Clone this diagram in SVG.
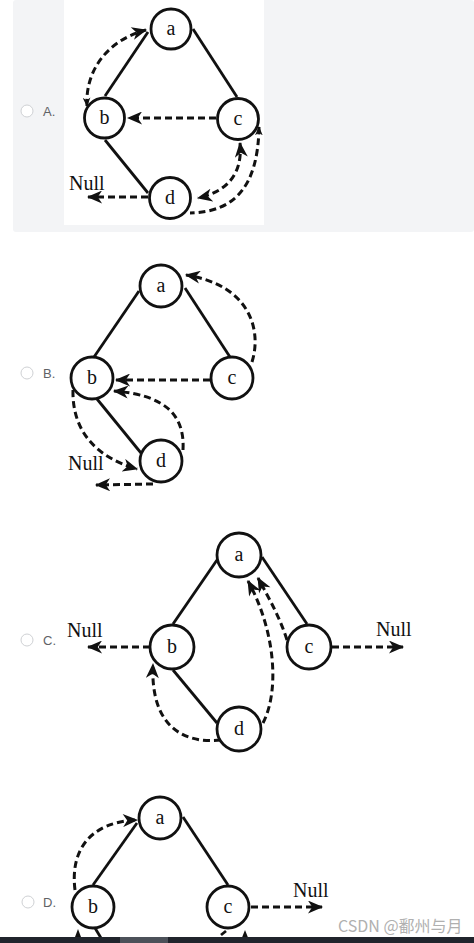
<svg xmlns="http://www.w3.org/2000/svg" width="474" height="943" viewBox="0 0 474 943">
<style>
.bg{fill:#ffffff}
.node circle{fill:#ffffff;stroke:#111;stroke-width:2.8}
.node text{font-family:"Liberation Serif",serif;font-size:20px;fill:#111;text-anchor:middle}
.edge{stroke:#111;stroke-width:2.8;fill:none}
.dash{stroke:#111;stroke-width:3;fill:none;stroke-dasharray:7 4}
.null{font-family:"Liberation Serif",serif;font-size:20px;fill:#111}
.radio{fill:#fff;stroke:#cfd1d4;stroke-width:1}
.opt{font-family:"Liberation Sans",Arial,sans-serif;font-size:13px;fill:#606266}
</style>
<defs>
<marker id="ah" viewBox="0 0 14 12" markerUnits="userSpaceOnUse" markerWidth="16" markerHeight="13" refX="13" refY="6" orient="auto-start-reverse">
<path d="M0,0 L14,6 L0,12 L4,6 Z" fill="#111"/>
</marker>
<marker id="ahs" viewBox="0 0 14 12" markerUnits="userSpaceOnUse" markerWidth="9" markerHeight="8" refX="13" refY="6" orient="auto-start-reverse">
<path d="M0,0 L14,6 L0,12 L4,6 Z" fill="#111"/>
</marker>
</defs>
<rect class="bg" x="0" y="0" width="474" height="943"/>

<!-- Option A -->
<rect x="13" y="0" width="461" height="232" rx="3" fill="#f3f4f6"/>
<rect x="64" y="0" width="200" height="225" fill="#ffffff"/>
<circle class="radio" cx="27" cy="111" r="6"/>
<text class="opt" x="43" y="116">A.</text>
<g id="A-edges">
<line class="edge" x1="148" y1="32" x2="105" y2="96"/>
<line class="edge" x1="193" y1="29" x2="237" y2="97"/>
<line class="edge" x1="105" y1="140" x2="148" y2="193"/>
<path class="dash" d="M216,118 L128,118" marker-end="url(#ah)"/>
<path class="dash" d="M148,197 L88,197" marker-end="url(#ah)"/>
<path class="dash" d="M87,106 C85,70 108,40 146,30" marker-end="url(#ah)" marker-start="url(#ahs)"/>
<path class="dash" d="M240,143 C243,175 226,192 198,198" marker-end="url(#ah)" marker-start="url(#ah)"/>
<path class="dash" d="M259,127 C258,185 236,212 190,213" marker-start="url(#ahs)"/>
</g>
<text class="null" x="69" y="190">Null</text>
<g id="A-a" class="node"><circle cx="171" cy="29" r="20"/><text x="171" y="35">a</text></g>
<g id="A-b" class="node"><circle cx="104.5" cy="118" r="20"/><text x="104.5" y="124">b</text></g>
<g id="A-c" class="node"><circle cx="238" cy="119" r="20.5"/><text x="238" y="125">c</text></g>
<g id="A-d" class="node"><circle cx="170" cy="198" r="20.5"/><text x="170" y="204">d</text></g>

<!-- Option B -->
<circle class="radio" cx="27" cy="373" r="6"/>
<text class="opt" x="43" y="378">B.</text>
<g id="B-edges">
<line class="edge" x1="139" y1="291" x2="94" y2="357"/>
<line class="edge" x1="185" y1="288" x2="230" y2="357"/>
<line class="edge" x1="97" y1="399" x2="141" y2="453"/>
<path class="dash" d="M210,380 L116,380" marker-end="url(#ah)"/>
<path class="dash" d="M252,362 C262,330 250,285 186,275" marker-end="url(#ah)"/>
<path class="dash" d="M183,450 C185,415 165,395 114,391" marker-end="url(#ah)"/>
<path class="dash" d="M73,390 C72,430 95,457 137,469" marker-end="url(#ah)"/>
<path class="dash" d="M153,484 L96,485" marker-end="url(#ah)"/>
</g>
<text class="null" x="68" y="470">Null</text>
<g id="B-a" class="node"><circle cx="161" cy="286" r="21"/><text x="161" y="292">a</text></g>
<g id="B-b" class="node"><circle cx="92" cy="378" r="21"/><text x="92" y="384">b</text></g>
<g id="B-c" class="node"><circle cx="232" cy="378" r="21"/><text x="232" y="384">c</text></g>
<g id="B-d" class="node"><circle cx="161" cy="461" r="21"/><text x="161" y="467">d</text></g>

<!-- Option C -->
<circle class="radio" cx="27" cy="640" r="6"/>
<text class="opt" x="43" y="645">C.</text>
<g id="C-edges">
<line class="edge" x1="217" y1="560" x2="173" y2="624"/>
<line class="edge" x1="262" y1="557" x2="307" y2="624"/>
<line class="edge" x1="173" y1="670" x2="217" y2="723"/>
<path class="dash" d="M150,647 L88,647" marker-end="url(#ah)"/>
<path class="dash" d="M332,647 L403,647" marker-end="url(#ah)"/>
<path class="dash" d="M221,740 C185,744 150,728 153,664" marker-end="url(#ah)"/>
<path class="dash" d="M263,723 C280,690 275,630 248,581" marker-end="url(#ah)"/>
<path class="dash" d="M287,640 C280,618 270,600 258,578" marker-end="url(#ah)"/>
</g>
<text class="null" x="67" y="637">Null</text>
<text class="null" x="376" y="636">Null</text>
<g id="C-a" class="node"><circle cx="239" cy="555" r="22"/><text x="239" y="561">a</text></g>
<g id="C-b" class="node"><circle cx="172" cy="647" r="22"/><text x="172" y="653">b</text></g>
<g id="C-c" class="node"><circle cx="309" cy="647" r="22"/><text x="309" y="653">c</text></g>
<g id="C-d" class="node"><circle cx="239" cy="729" r="22"/><text x="239" y="735">d</text></g>

<!-- Option D -->
<circle class="radio" cx="28" cy="902" r="6"/>
<text class="opt" x="43" y="907">D.</text>
<g id="D-edges">
<line class="edge" x1="137" y1="823" x2="93" y2="885"/>
<line class="edge" x1="183" y1="817" x2="228" y2="885"/>
<line class="edge" x1="95" y1="928" x2="104" y2="943"/>
<path class="dash" d="M75,890 C70,850 90,822 137,820" marker-end="url(#ah)"/>
<path class="dash" d="M251,907 L322,907" marker-end="url(#ah)"/>
<path d="M72,945 L78,929 L84,945 Z" fill="#111"/>
<path d="M239,945 L245,930 L251,945 Z" fill="#111"/>
<line class="edge" x1="221" y1="935" x2="226" y2="931"/>
</g>
<text class="null" x="293" y="897">Null</text>
<g id="D-a" class="node"><circle cx="160" cy="818" r="21"/><text x="160" y="824">a</text></g>
<g id="D-b" class="node"><circle cx="93" cy="907" r="21"/><text x="93" y="913">b</text></g>
<g id="D-c" class="node"><circle cx="228" cy="907" r="21"/><text x="228" y="913">c</text></g>

<text x="338" y="932" font-family="Noto Sans CJK SC, sans-serif" font-size="16" fill="#b0b0b0">CSDN @鄱州与月</text>
<rect x="0" y="937" width="474" height="6" fill="#20242c"/>
<rect x="120" y="937" width="48" height="6" fill="#4c5159"/>
</svg>
